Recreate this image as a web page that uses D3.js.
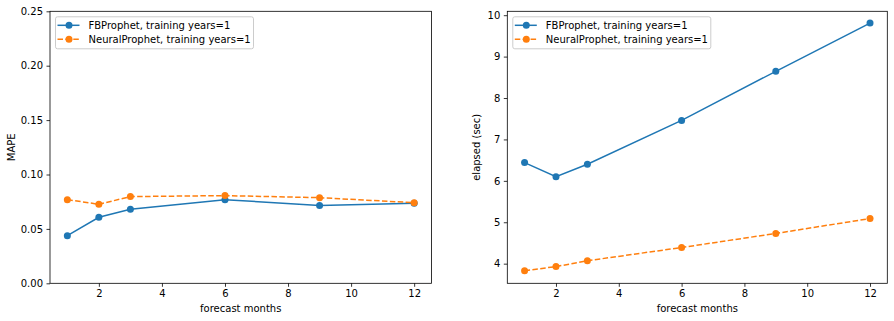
<!DOCTYPE html>
<html><head><meta charset="utf-8">
<script src="https://cdn.jsdelivr.net/npm/d3@7"></script>
<style>body{margin:0;background:#fff}svg{display:block}text{font-family:"DejaVu Sans",sans-serif}</style>
</head><body><svg id="c" width="894" height="321"></svg>
<script>
const months = [1, 2, 3, 6, 9, 12];
const mapeFB = [0.0438, 0.0607, 0.0680, 0.0769, 0.0714, 0.0735];
const mapeNP = [0.0769, 0.0726, 0.0797, 0.0806, 0.0787, 0.0741];
const elapsedFB = [6.44, 6.10, 6.40, 7.46, 8.645, 9.81];
const elapsedNP = [3.83, 3.93, 4.07, 4.39, 4.73, 5.09];
const seriesNames = ["FBProphet, training years=1", "NeuralProphet, training years=1"];
const xTicks = [2, 4, 6, 8, 10, 12];
const mapeTicks = [0, 0.05, 0.10, 0.15, 0.20, 0.25];
const elapsedTicks = [4, 5, 6, 7, 8, 9, 10];
const colors = ["#1f77b4", "#ff7f0e"];

const svg = d3.select("#c");

function panel(opts) {
  const {left, right, top, bottom, yDomain, yTicks, yFmt, ylabel, data} = opts;
  const x = d3.scaleLinear().domain([0.45, 12.55]).range([left, right]);
  const y = d3.scaleLinear().domain(yDomain).range([bottom, top]);
  const g = svg.append("g");
  const xa = g.append("g").attr("transform", `translate(0,${bottom})`)
    .call(d3.axisBottom(x).tickValues(xTicks).tickSize(3.5).tickPadding(3.5).tickFormat(d3.format("d")));
  const ya = g.append("g").attr("transform", `translate(${left},0)`)
    .call(d3.axisLeft(y).tickValues(yTicks).tickSize(3.5).tickPadding(3.5).tickFormat(yFmt));
  [xa, ya].forEach(a => {
    a.select(".domain").remove();
    a.selectAll("line").attr("stroke", "#000").attr("stroke-width", 0.8);
    a.selectAll("text").attr("font-size", 10).attr("fill", "#000").attr("font-family", "DejaVu Sans");
  });
  g.append("rect").attr("x", left).attr("y", top).attr("width", right - left).attr("height", bottom - top)
    .attr("fill", "none").attr("stroke", "#000").attr("stroke-width", 0.8);
  g.append("text").attr("x", (left + right) / 2).attr("y", bottom + 29).attr("text-anchor", "middle")
    .attr("font-size", 10).text("forecast months");
  g.append("text").attr("transform", `translate(${opts.ylabelX},${(top + bottom) / 2}) rotate(-90)`)
    .attr("text-anchor", "middle").attr("font-size", 10).text(ylabel);
  const line = d3.line().x((d, i) => x(months[i])).y(d => y(d));
  data.forEach((vals, k) => {
    g.append("path").attr("d", line(vals)).attr("fill", "none").attr("stroke", colors[k])
      .attr("stroke-width", 1.5).attr("stroke-dasharray", k === 1 ? "5.5,2.4" : null);
    g.selectAll(null).data(vals).enter().append("circle")
      .attr("cx", (d, i) => x(months[i])).attr("cy", d => y(d)).attr("r", 3.5).attr("fill", colors[k]);
  });
  // legend
  const lx = left + 5.5, ly = top + 5.5;
  g.append("rect").attr("x", lx).attr("y", ly).attr("width", 198).attr("height", 32).attr("rx", 2)
    .attr("fill", "#fff").attr("fill-opacity", 0.8).attr("stroke", "#ccc").attr("stroke-width", 1);
  seriesNames.forEach((name, k) => {
    const yy = ly + 8.5 + k * 14;
    g.append("line").attr("x1", lx + 2).attr("x2", lx + 24).attr("y1", yy).attr("y2", yy)
      .attr("stroke", colors[k]).attr("stroke-width", 1.5).attr("stroke-dasharray", k === 1 ? "5.5,2.4" : null);
    g.append("circle").attr("cx", lx + 13.5).attr("cy", yy).attr("r", 3.5).attr("fill", colors[k]);
    g.append("text").attr("x", lx + 33).attr("y", yy + 3.5).attr("font-size", 10).text(name);
  });
}

panel({left: 50, right: 431.5, top: 11.3, bottom: 283.3, yDomain: [0, 0.25], yTicks: mapeTicks,
  yFmt: d3.format(".2f"), ylabel: "MAPE", ylabelX: 15, data: [mapeFB, mapeNP]});
panel({left: 507.3, right: 887.3, top: 11.3, bottom: 283.3, yDomain: [3.526, 10.094], yTicks: elapsedTicks,
  yFmt: d3.format("d"), ylabel: "elapsed (sec)", ylabelX: 479.5, data: [elapsedFB, elapsedNP]});
</script></body></html>
